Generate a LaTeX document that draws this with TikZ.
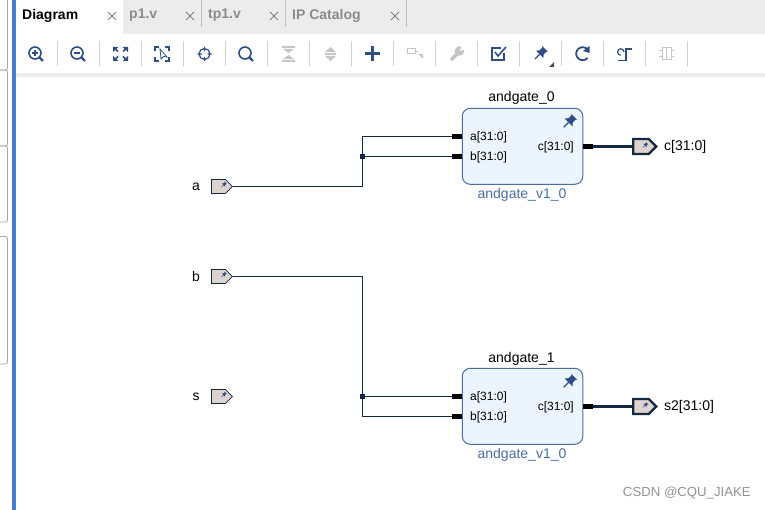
\documentclass[tikz,border=0pt]{standalone}
\usepackage{fontspec}
\setmainfont{Liberation Sans}
\usetikzlibrary{shapes.symbols}

\definecolor{wirecol}{HTML}{14293F}
\definecolor{iconcol}{HTML}{2F4E85}
\definecolor{offcol}{HTML}{C6C6C6}
\definecolor{barcol}{HTML}{ECECEC}
\definecolor{sidecol}{HTML}{4A7BD3}
\definecolor{gatecol}{HTML}{ECF4FE}
\definecolor{edgecol}{HTML}{4A6DA8}
\definecolor{portcol}{HTML}{DDD3CF}

% pin: x, y, scale
\newcommand{\pinicon}[3]{
  \begin{scope}[shift={(#1,#2)},rotate=-45,scale=#3]
    \fill [iconcol] (-4.5,-6) -- (4.5,-6) -- (3,-5) -- (3,-1) -- (5.5,2) -- (-5.5,2)
      -- (-3,-1) -- (-3,-5) -- cycle;
    \draw [iconcol,line width=#3*1.3pt] (0,2) -- (0,9);
  \end{scope}
}
% magnifier: x, y
\newcommand{\lensicon}[2]{
  \draw [iconcol,line width=1.6pt] (#1-1,#2-1) circle (6);
  \draw [iconcol,line width=2.4pt] (#1+3.5,#2+3.5) -- (#1+7,#2+7);
}

\begin{document}
\begin{tikzpicture}[x=1pt,y=-1pt,
        gate/.style={draw=edgecol,fill=gatecol,line width=1pt,rounded corners=8pt,
      minimum width=120.5pt,minimum height=76pt,inner sep=0pt},
        pinbox/.style={fill=black,minimum width=10pt,minimum height=5pt,inner sep=0pt},
        outbox/.style={pinbox},
        junction/.style={fill=wirecol,minimum size=5pt,inner sep=0pt},
        inport/.style={signal,signal to=east,signal pointer angle=90,draw=wirecol,fill=portcol,
      line width=0.8pt,minimum width=21pt,minimum height=14pt,inner sep=0pt,anchor=west},
        outport/.style={signal,signal to=east,signal pointer angle=90,draw=wirecol,fill=portcol,
      line width=2.4pt,minimum width=23pt,minimum height=15pt,inner sep=0pt,anchor=west},
        wire/.style={wirecol,line width=1pt},
        buswire/.style={wirecol,line width=3pt},
        label/.style={font=\fontsize{14}{14}\selectfont,text=black,inner sep=0pt},
        pinlabel/.style={font=\fontsize{12}{12}\selectfont,text=black,inner sep=0pt},
        typelabel/.style={font=\fontsize{14}{14}\selectfont,text=edgecol,inner sep=0pt},
        tab/.style={font=\bfseries\fontsize{14}{14}\selectfont,text=gray!90,inner sep=0pt,anchor=west},
        closemark/.style={gray,line width=1pt},
        sep/.style={offcol!80,line width=0.8pt},
        icon/.style={iconcol,line width=1.6pt},
        officon/.style={offcol,line width=1.6pt}]
	\useasboundingbox (0,0) rectangle (765,510);
	\fill [white] (0,0) rectangle (765,510);

	% side panels
	\draw [gray!70,line width=0.8pt,rounded corners=2pt] (-5,70) -- (7.5,70) -- (7.5,0);
	\draw [gray!70,line width=0.8pt,rounded corners=2pt] (-5,70) -- (7.5,70) -- (7.5,146) -- (-5,146);
	\draw [gray!70,line width=0.8pt,rounded corners=2pt] (-5,146) -- (7.5,146) -- (7.5,222) -- (-5,222);
	\draw [gray!70,line width=0.8pt,rounded corners=2pt] (-5,236.5) -- (7.5,236.5) -- (7.5,364) -- (-5,364);

	% tabs and toolbar
	\fill [barcol] (16,0) rectangle (765,34);
	\fill [white] (16,0) rectangle (123,34);
	\fill [barcol] (16,73) rectangle (765,77);
	\fill [sidecol] (12,0) rectangle (16,510);
	\node [tab,text=black] (tabdiagram) at (22,15.5) {Diagram};
	\node [tab] (tabp) at (129,15.5) {p1.v};
	\node [tab] (tabtp) at (208,15.5) {tp1.v};
	\node [tab] (tabip) at (292,15.5) {IP Catalog};
	\foreach \x in {112,190,274,395}
		\draw [closemark] (\x-4,12) -- (\x+4,20) (\x-4,20) -- (\x+4,12);
	\foreach \x in {201.5,285,406.5}
		\draw [gray!50,line width=0.8pt] (\x,0) -- (\x,27);
	\foreach \x in {57.5,99.5,141.5,183.5,225.5,267.5,309.5,351.5,393.5,435.5,477.5,519.5,561.5,603.5,645.5,687.5}
		\draw [sep] (\x,41) -- (\x,66);

	% toolbar icons
	\lensicon{36}{54}
	\draw [icon,line width=1.2pt] (32,53) -- (38,53) (35,50) -- (35,56);
	\lensicon{78}{54}
	\draw [icon,line width=1.2pt] (74,53) -- (80,53);
	\foreach \sx/\sy in {-1/-1,1/-1,-1/1,1/1} {
		\fill [iconcol] (120.5+\sx*7.5,54+\sy*7) -- (120.5+\sx*2,54+\sy*7) -- (120.5+\sx*7.5,54+\sy*2) -- cycle;
		\draw [iconcol,line width=1.6pt] (120.5+\sx*5,54+\sy*5) -- (120.5+\sx*2.5,54+\sy*2.5);
	}
	\draw [icon,line width=1.2pt] (155,51) -- (155,47) -- (159,47) (165,47) -- (169,47) -- (169,51)
		(155,57) -- (155,61) -- (159,61) (169,57) -- (169,61) -- (165,61);
	\draw [iconcol,line width=0.8pt,fill=white] (160,49) -- (167,57) -- (163.5,56.5) -- (161,59) -- cycle;
	\draw [icon,line width=1.2pt] (204.5,54) circle (5.5) (204.5,47) -- (204.5,51) (204.5,57) -- (204.5,61)
		(197.5,54) -- (201.5,54) (207.5,54) -- (211.5,54);
	\lensicon{246}{54}
	\fill [offcol] (282,46) -- (295,46) -- (295,48) -- (282,48) -- cycle (282,60) -- (295,60) -- (295,62) -- (282,62) -- cycle
		(283,49) -- (294,49) -- (288.5,53) -- cycle (283,59) -- (294,59) -- (288.5,55) -- cycle;
	\fill [offcol] (330.5,47) -- (336,52) -- (325,52) -- cycle (325,53) rectangle (336,55)
		(325,56) -- (336,56) -- (330.5,61) -- cycle;
	\draw [iconcol,line width=3pt] (372.5,46.5) -- (372.5,61.5) (365,54) -- (380,54);
	\draw [officon,line width=0.8pt] (407.5,48) rectangle (415,53.5) (415,51) -- (418,51);
	\fill [offcol] (418,54) -- (423,54) -- (423,59) -- cycle;
	\draw [offcol,line width=3.6pt] (451,60) -- (458,53);
	\fill [offcol] (459.5,51) circle (4.8);
	\fill [white] (459.5,51) -- (463,44) -- (467,49) -- cycle;
	\draw [iconcol,line width=1.5pt] (501,48) -- (492,48) -- (492,60) -- (504,60) -- (504,53);
	\draw [iconcol,line width=1.6pt] (495,52) -- (498,56) -- (506,47);
	\pinicon{541}{53}{0.95}
	\fill [black!70] (554,62) -- (554,67) -- (549,67) -- cycle;
	\draw [iconcol,line width=1.8pt] (588,50) arc (-35:-320:6.5);
	\fill [iconcol] (589.5,46) -- (589.5,53) -- (583,51) -- cycle;
	\draw [iconcol,line width=1.5pt] (618,60.5) -- (626,60.5) -- (626,49) -- (632,49);
	\draw [iconcol,line width=1.2pt] (624,52) arc (0:-270:3.2);
	\draw [officon,line width=1pt] (662,48) rectangle (671,60) (659,51) -- (662,51) (659,57) -- (662,57)
		(671,51) -- (674,51) (671,57) -- (674,57) (666.5,48) -- (666.5,60);

	% block design
	\node [gate] (gate0) at (522.5,146.3) {};
	\node [gate] (gate1) at (522.5,406.3) {};
	\node [label] (name0) at (521.5,98) {andgate\_0};
	\node [label] (name1) at (521.5,358.5) {andgate\_1};
	\node [typelabel] (type0) at (522,195) {andgate\_v1\_0};
	\node [typelabel] (type1) at (522,454.5) {andgate\_v1\_0};
	\pinicon{570}{121}{1}
	\pinicon{570}{381}{1}

	\node [pinbox] (a0) at (457,136.5) {};
	\node [pinbox] (b0) at (457,156.5) {};
	\node [outbox] (c0) at (588,146.5) {};
	\node [pinbox] (a1) at (457,396.5) {};
	\node [pinbox] (b1) at (457,416.5) {};
	\node [outbox] (c1) at (588,406.5) {};
	\node [pinlabel,anchor=west] (la0) at (470,137) {a[31:0]};
	\node [pinlabel,anchor=west] (lb0) at (470,157) {b[31:0]};
	\node [pinlabel,anchor=east] (lc0) at (574,147) {c[31:0]};
	\node [pinlabel,anchor=west] (la1) at (470,397) {a[31:0]};
	\node [pinlabel,anchor=west] (lb1) at (470,417) {b[31:0]};
	\node [pinlabel,anchor=east] (lc1) at (574,407) {c[31:0]};

	\node [inport] (porta) at (211,186.5) {};
	\node [inport] (portb) at (211,276.5) {};
	\node [inport] (ports) at (211,396.5) {};
	\node [outport] (portc) at (632,146.5) {};
	\node [outport] (ports2) at (632,406.5) {};
	\pinicon{224}{184.5}{0.4}
	\pinicon{224}{274.5}{0.4}
	\pinicon{224}{394.5}{0.4}
	\pinicon{645.5}{145}{0.4}
	\pinicon{645.5}{405}{0.4}
	\node [label] (lporta) at (196,187) {a};
	\node [label] (lportb) at (196,276.5) {b};
	\node [label] (lports) at (196,397) {s};
	\node [label,anchor=west] (lportc) at (664,147) {c[31:0]};
	\node [label,anchor=west] (lports2) at (664,407) {s2[31:0]};

	\node [junction] (j0) at (362.5,156.5) {};
	\node [junction] (j1) at (362.5,396.5) {};

	\draw [wire] (porta.east) -| (j0.center);
	\draw [wire] (j0.center) |- (a0.west);
	\draw [wire] (j0.center) -- (b0.west);
	\draw [wire] (portb.east) -| (j1.center);
	\draw [wire] (j1.center) |- (b1.west);
	\draw [wire] (j1.center) -- (a1.west);
	\draw [buswire] (c0.east) -- (portc.west);
	\draw [buswire] (c1.east) -- (ports2.west);

	\node [font=\fontsize{13.2}{13}\selectfont,text=gray!85,inner sep=0pt,anchor=east] (mark) at (751,493.5) {CSDN @CQU\_JIAKE};
\end{tikzpicture}
\end{document}
